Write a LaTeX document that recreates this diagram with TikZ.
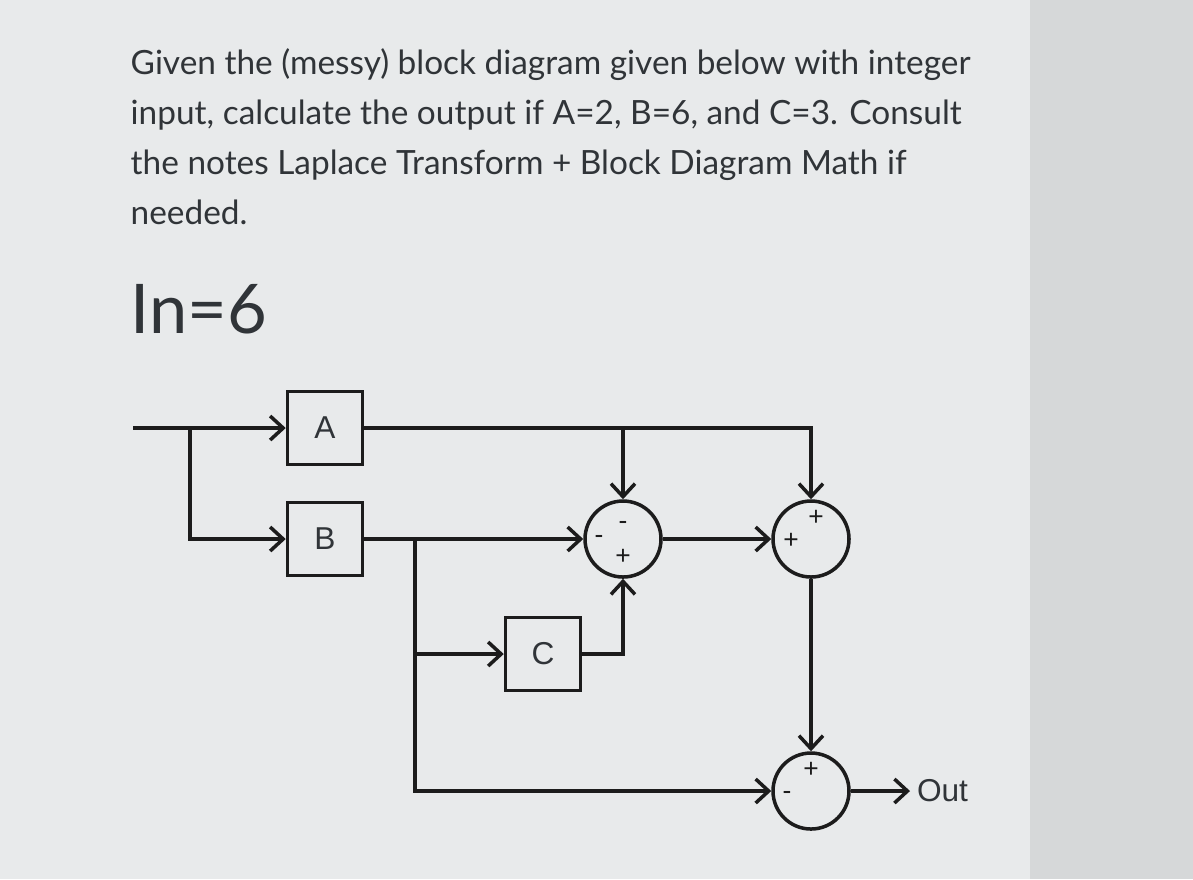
\documentclass[tikz,border=0pt]{standalone}
\usepackage{fontspec}
\setmainfont{Lato}
\newfontfamily\diagfont{Liberation Sans}
\usetikzlibrary{arrows.meta}
\definecolor{screen}{RGB}{232,234,235}
\definecolor{edge}{RGB}{214,216,217}
\definecolor{ink}{RGB}{28,28,28}
\definecolor{textgray}{RGB}{48,52,56}
\tikzset{
    blockbox/.style={draw=ink, line width=1pt, minimum width=0.75cm, minimum height=0.73cm, font=\diagfont\fontsize{9}{10}\selectfont, text=textgray},
    sumnode/.style={draw=ink, line width=1pt, circle, minimum size=0.76cm, inner sep=0pt},
    sign/.style={font=\diagfont\fontsize{7.5}{8}\selectfont, inner sep=0pt, text=ink},
    wire/.style={draw=ink, line width=1pt},
    >={Straight Barb[length=1.3mm, width=2.4mm]}
}
\begin{document}
\begin{tikzpicture}
    \useasboundingbox (0,0) rectangle (11.93,-8.79);
    \fill[screen] (0,0) rectangle (11.93,-8.79);
    \fill[edge] (10.30,0) rectangle (11.93,-8.79);

    % Question text %
    \node[anchor=north west, align=left, inner sep=0pt, text=textgray, font=\fontsize{9.5}{14.2}\selectfont] (question) at (1.30,-0.48)
        {Given the (messy) block diagram given below with integer\\
         input, calculate the output if A=2, B=6, and C=3. Consult\\
         the notes Laplace Transform + Block Diagram Math if\\
         needed.};
    \node[anchor=base west, inner sep=0pt, text=textgray, font=\fontsize{19.5}{22}\selectfont] (input) at (1.30,-3.33) {In=6};

    % Blocks %
    \node[blockbox] (A) at (3.25,-4.28) {A};
    \node[blockbox] (B) at (3.25,-5.39) {B};
    \node[blockbox] (C) at (5.43,-6.54) {C};
    \node[sumnode] (S1) at (6.23,-5.39) {};
    \node[sumnode] (S2) at (8.11,-5.39) {};
    \node[sumnode] (S3) at (8.11,-7.91) {};

    % Signs %
    \node[sign] (s1t) at ([shift={(0,0.14)}]S1.center) {-};
    \node[sign] (s1l) at ([shift={(-0.24,0)}]S1.center) {-};
    \node[sign] (s1b) at ([shift={(0,-0.18)}]S1.center) {+};
    \node[sign] (s2l) at ([shift={(-0.20,-0.02)}]S2.center) {+};
    \node[sign] (s2t) at ([shift={(0.05,0.21)}]S2.center) {+};
    \node[sign] (s3t) at ([shift={(0,0.21)}]S3.center) {+};
    \node[sign] (s3l) at ([shift={(-0.24,-0.04)}]S3.center) {-};

    % Wires %
    \coordinate (in) at (1.33,-4.28);
    \coordinate (split1) at (1.90,-4.28);
    \coordinate (split2) at (4.15,-5.39);
    \coordinate (out) at (9.10,-7.91);
    \draw[wire,->] (in) -- (A.west);
    \draw[wire,->] (split1) |- (B.west);
    \draw[wire,->] (A.east) -| (S2.north);
    \draw[wire,->] (A.east -| S1) -- (S1.north);
    \draw[wire,->] (B.east) -- (S1.west);
    \draw[wire,->] (split2) |- (S3.west);
    \draw[wire,->] (split2 |- C) -- (C.west);
    \draw[wire,->] (C.east) -| (S1.south);
    \draw[wire,->] (S1.east) -- (S2.west);
    \draw[wire,->] (S2.south) -- (S3.north);
    \draw[wire,->] (S3.east) -- (out) node[right, inner sep=1.5pt, text=textgray, font=\diagfont\fontsize{9}{10}\selectfont] (outlabel) {Out};
\end{tikzpicture}
\end{document}
